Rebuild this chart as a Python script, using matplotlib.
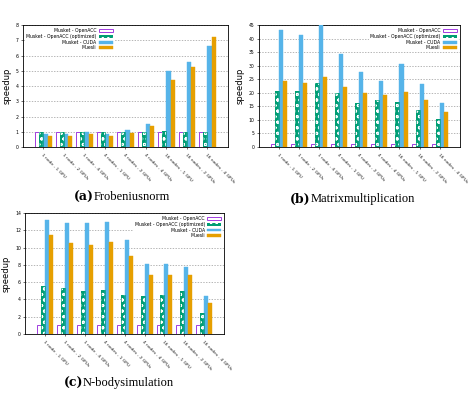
import matplotlib
matplotlib.use("Agg")
import matplotlib.pyplot as plt
import numpy as np

configs = ["1 node - 1 GPU", "1 node - 2 GPUs", "1 node - 4 GPUs",
           "4 nodes - 1 GPU", "4 nodes - 2 GPUs", "4 nodes - 4 GPUs",
           "16 nodes - 1 GPU", "16 nodes - 2 GPUs", "16 nodes - 4 GPUs"]
series_names = ["Musket - OpenACC", "Musket - OpenACC (optimized)", "Musket - CUDA", "Muesli"]

frob_openacc = [1, 1, 1, 1, 1, 1, 1, 1, 1]
frob_opt = [1.0, 1.0, 1.0, 1.0, 1.0, 1.0, 1.05, 1.0, 1.0]
frob_cuda = [0.85, 0.85, 1.0, 0.85, 1.1, 1.52, 5.0, 5.6, 6.6]
frob_muesli = [0.7, 0.75, 0.88, 0.75, 0.92, 1.38, 4.38, 5.22, 7.22]

mm_openacc = [1, 1, 1, 1, 1, 1, 1, 1, 1]
mm_opt = [20.6, 20.6, 23.6, 19.8, 16.3, 17.4, 16.7, 13.7, 10.3]
mm_cuda = [43.2, 41.5, 46.0, 34.3, 27.7, 24.2, 30.7, 23.3, 16.3]
mm_muesli = [24.5, 23.6, 25.8, 22.2, 20.0, 19.2, 20.4, 17.2, 13.0]

nb_openacc = [1, 1, 1, 1, 1, 1, 1, 1, 1]
nb_opt = [5.5, 5.35, 5.0, 5.05, 4.5, 4.45, 4.5, 4.95, 2.45]
nb_cuda = [13.2, 12.8, 12.9, 13.0, 10.9, 8.05, 8.05, 7.75, 4.35]
nb_muesli = [11.4, 10.55, 10.3, 10.65, 9.0, 6.85, 6.8, 6.8, 3.55]

violet = "#a23ce0"
green = "#009e73"
blue = "#56b4e9"
orange = "#e69f00"

plt.rcParams["hatch.linewidth"] = 0.7

fig = plt.figure(figsize=(4.74, 3.93), dpi=100)

def panel(rect, data, ymax, ystep, legend_loc, caption_letter, caption_text, cap_xy):
    ax = fig.add_axes(rect)
    x = np.arange(len(configs))
    w = 0.2
    offs = [-1.5 * w, -0.5 * w, 0.5 * w, 1.5 * w]
    h0 = ax.bar(x + offs[0], data[0], w, facecolor="white", edgecolor=violet, linewidth=0.7, zorder=3)
    h1 = ax.bar(x + offs[1], data[1], w, facecolor=green, edgecolor="white", hatch="ooo", linewidth=0, zorder=3)
    ax.bar(x + offs[1], data[1], w, facecolor="none", edgecolor=green, linewidth=0.5, zorder=3.1)
    h2 = ax.bar(x + offs[2], data[2], w, facecolor=blue, edgecolor=blue, linewidth=0.3, zorder=3)
    h3 = ax.bar(x + offs[3], data[3], w, facecolor=orange, edgecolor=orange, linewidth=0.3, zorder=3)
    ax.set_xlim(-1, len(configs))
    ax.set_ylim(0, ymax)
    ax.set_yticks(np.arange(0, ymax + 0.01, ystep))
    ax.yaxis.grid(True, color="#999999", linestyle=(0, (2, 2)), linewidth=0.5, zorder=0)
    ax.set_axisbelow(True)
    ax.tick_params(axis="y", labelsize=3.3, length=1.5, width=0.4, pad=1.5)
    ax.set_xticks(x)
    ax.set_xticklabels(configs, rotation=-45, ha="left", va="top", rotation_mode="anchor",
                       fontsize=3.2, color="#222222")
    ax.tick_params(axis="x", length=1.5, width=0.4, pad=2.5)
    for s in ax.spines.values():
        s.set_linewidth(0.6)
    ax.set_ylabel("speedup", fontsize=6, labelpad=3)
    leg = ax.legend([h0, h1, h2, h3], series_names, loc=legend_loc, fontsize=3.3,
                    frameon=True, framealpha=1, edgecolor="none", facecolor="white",
                    markerfirst=False, handlelength=3.0, handleheight=0.6,
                    labelspacing=0.15, borderpad=0.3, handletextpad=0.5,
                    fancybox=False, borderaxespad=0.4)
    for t in leg.get_texts():
        t.set_ha("right")
    leg.set_zorder(5)
    fig.text(cap_xy[0], cap_xy[1], caption_letter, fontsize=9, fontweight="bold",
             family="DejaVu Serif", ha="right", va="center")
    fig.text(cap_xy[0], cap_xy[1], caption_text, fontsize=9,
             family="Liberation Serif", ha="left", va="center")
    return ax

panel([0.0485, 0.626, 0.4325, 0.310],
      [frob_openacc, frob_opt, frob_cuda, frob_muesli], 8, 1, "upper left",
      "(a)", "Frobeniusnorm", (0.198, 1 - 197 / 393))
panel([0.546, 0.626, 0.424, 0.310],
      [mm_openacc, mm_opt, mm_cuda, mm_muesli], 45, 5, "upper right",
      "(b)", "Matrixmultiplication", (0.655, 1 - 199 / 393))
panel([0.053, 0.150, 0.420, 0.308],
      [nb_openacc, nb_opt, nb_cuda, nb_muesli], 14, 2, "upper right",
      "(c)", "N-bodysimulation", (0.175, 1 - 383 / 393))

fig.savefig("out.png", dpi=100)
